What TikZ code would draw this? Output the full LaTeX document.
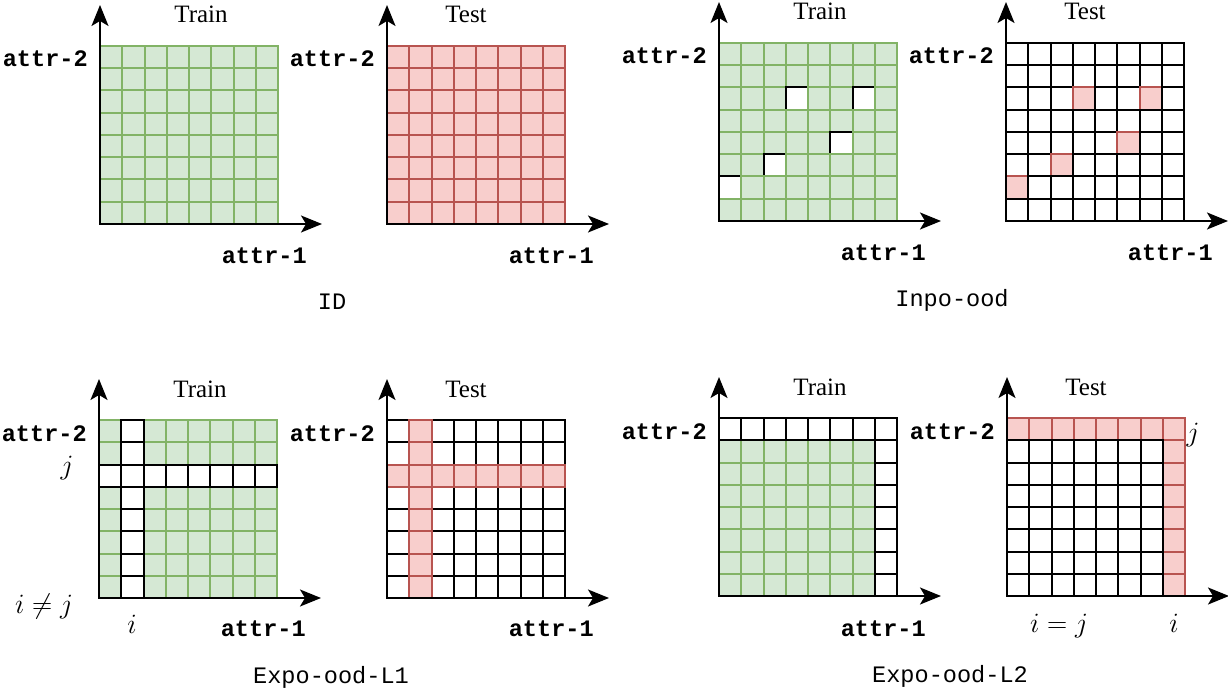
\RequirePackage{fix-cm}
\documentclass[tikz,border=0pt]{standalone}
\usepackage{fontspec}
\setmainfont{Liberation Serif}
\newfontfamily\monofont{Liberation Mono}
\usetikzlibrary{arrows.meta}
\definecolor{gfill}{HTML}{D5E8D4}
\definecolor{gline}{HTML}{82B366}
\definecolor{pfill}{HTML}{F8CECC}
\definecolor{pline}{HTML}{B85450}
\tikzset{
  gcell/.style={fill=gfill, draw=gline, line width=2pt},
  pcell/.style={fill=pfill, draw=pline, line width=2pt},
  wcell/.style={fill=white, draw=black, line width=2pt},
  axis/.style={line width=1.8pt, {Stealth[length=21pt,width=17pt,inset=5pt]}-{Stealth[length=21pt,width=17pt,inset=5pt]}},
  ttl/.style={font=\fontsize{25}{30}\selectfont, inner sep=0pt, anchor=base},
  monob/.style={font=\monofont\bfseries\fontsize{23.6}{28}\selectfont, inner sep=0pt, anchor=base east},
  capt/.style={font=\monofont\fontsize{23.6}{28}\selectfont, inner sep=0pt, anchor=base},
  mlab/.style={font=\fontsize{28}{34}\selectfont, inner sep=0pt, anchor=base},
}
% cell: style, ox, oy, col, row(from top)
\newcommand\cellat[5]{\draw[#1] ({#2+#4*22.25},{#3-(8-#5)*22.25}) rectangle ++(22.25,22.25);}
\newcommand\fillgrid[3]{\foreach \c in {0,...,7}{\foreach \r in {0,...,7}{\cellat{#1}{#2}{#3}{\c}{\r}}}}
% axes and labels: name, ox, oy, title, title offset
\newcommand\axesat[5]{%
  \coordinate (#1o) at (#2,#3);
  \coordinate (#1x) at ({#2+222},#3);
  \coordinate (#1y) at (#2,{#3-219});
  \draw[axis] (#1y) -- (#1o) -- (#1x);
  \node[monob] (#1a2) at ({#2-12},{#3-157}) {attr-2};
  \node[ttl] (#1t) at ({#2+#5},{#3-201}) {#4};
}
\newcommand\attrone[3]{\node[monob] (#1a1) at ({#2+207},{#3+40}) {attr-1};}
\begin{document}
\begin{tikzpicture}[x=1pt,y=-1pt]
\useasboundingbox (0,0) rectangle (1228,692);
% ---- ID ----
\fillgrid{gcell}{100}{224}
\axesat{pa}{100}{224}{Train}{101}
\attrone{pa}{100}{224}
\fillgrid{pcell}{387}{224}
\axesat{pb}{387}{224}{Test}{79}
\attrone{pb}{387}{224}
\node[capt] (capid) at (332,310) {ID};
% ---- Inpo-ood ----
\fillgrid{gcell}{719}{221}
\foreach \c/\r in {3/2,6/2,5/4,2/5,0/6}{\cellat{wcell}{719}{221}{\c}{\r}}
\foreach \c/\r in {4/2,3/3,7/2,6/3,6/4,5/5,3/5,2/6,1/6,0/7}{\cellat{gcell}{719}{221}{\c}{\r}}
\axesat{pc}{719}{221}{Train}{101}
\attrone{pc}{719}{221}
\fillgrid{wcell}{1006}{221}
\foreach \c/\r in {3/2,6/2,5/4,2/5,0/6}{\cellat{pcell}{1006}{221}{\c}{\r}}
\foreach \c/\r in {4/2,3/3,7/2,6/3,6/4,5/5,3/5,2/6,1/6,0/7}{\cellat{wcell}{1006}{221}{\c}{\r}}
\axesat{pd}{1006}{221}{Test}{79}
\attrone{pd}{1006}{221}
\node[capt] (capin) at (952,307) {Inpo-ood};
% ---- Expo-ood-L1 ----
\fillgrid{gcell}{99}{598}
\foreach \r in {0,...,7}{\cellat{wcell}{99}{598}{1}{\r}}
\foreach \c in {0,...,7}{\cellat{wcell}{99}{598}{\c}{2}}
\axesat{pe}{99}{598}{Train}{101}
\attrone{pe}{99}{596}
\fillgrid{wcell}{387}{598}
\foreach \r in {0,...,7}{\cellat{pcell}{387}{598}{1}{\r}}
\foreach \c in {0,...,7}{\cellat{pcell}{387}{598}{\c}{2}}
\axesat{pf}{387}{598}{Test}{79}
\attrone{pf}{387}{596}
\node[mlab] (ej) at (67,474) {$j$};
\node[mlab] (eij) at (44,613) {$i\neq j$};
\node[mlab] (ei) at (132,633) {$i$};
\node[capt] (capl1) at (331,683) {Expo-ood-L1};
% ---- Expo-ood-L2 ----
\fillgrid{gcell}{719}{596}
\foreach \c in {0,...,7}{\cellat{wcell}{719}{596}{\c}{0}}
\foreach \r in {0,...,7}{\cellat{wcell}{719}{596}{7}{\r}}
\axesat{pg}{719}{596}{Train}{101}
\attrone{pg}{719}{596}
\fillgrid{pcell}{1007}{596}
\foreach \c in {0,...,6}{\foreach \r in {1,...,7}{\cellat{wcell}{1007}{596}{\c}{\r}}}
\axesat{ph}{1007}{596}{Test}{79}
\node[mlab] (fj) at (1193,441) {$j$};
\node[mlab] (fij) at (1059,632) {$i=j$};
\node[mlab] (fi) at (1174,632) {$i$};
\node[capt] (capl2) at (950,682) {Expo-ood-L2};
\end{tikzpicture}
\end{document}
